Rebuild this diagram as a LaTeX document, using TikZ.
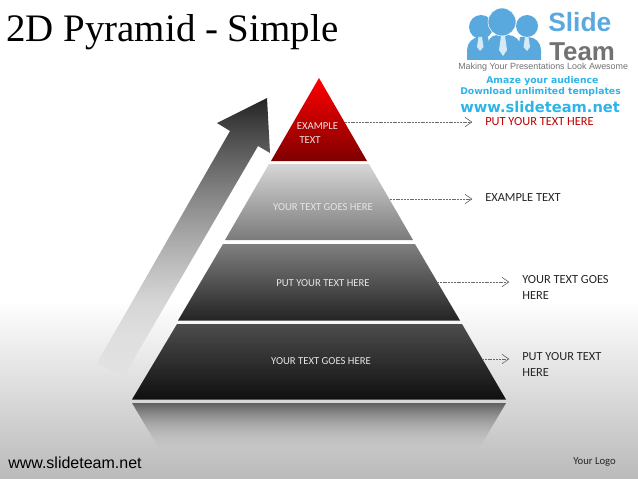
\documentclass[tikz,border=0pt]{standalone}
\usepackage{xcolor}
\usepackage{fontspec}
\setmainfont{Carlito}
\newfontfamily\titlefont{Liberation Serif}
\newfontfamily\webfont{Liberation Sans}
\newfontfamily\widefont{DejaVu Sans}
\usetikzlibrary{arrows.meta,fadings}

\definecolor{logoblue}{HTML}{5AA9DE}
\definecolor{logocyan}{HTML}{2FB4EA}
\definecolor{logogrey}{HTML}{727272}
\definecolor{tiertext}{HTML}{E6E6E6}

\begin{document}
\begin{tikzpicture}[x=0.75pt,y=-0.75pt,>={Straight Barb[length=5pt,width=7pt]},
    tierlabel/.style={text=tiertext,font=\fontsize{8}{10.5}\selectfont,inner sep=0pt},
    sidelabel/.style={anchor=west,align=left,inner sep=0pt,text=black!85,
                      font=\fontsize{9.3}{11.4}\selectfont},
    leader/.style={->,dashed,dash pattern=on 1.5pt off 0.6pt,black!58,line width=0.5pt,shorten >=9.5pt},
    person/.style={fill=logoblue},
    tie/.style={fill=white,fill opacity=0.75},
    logotext/.style={anchor=west,inner sep=0pt}]
    \useasboundingbox (0,0) rectangle (638,478);

    % background
    \fill[white] (0,0) rectangle (638,300);
    \shade[top color=white,bottom color=black!27] (0,300) rectangle (638,478);

    % rising arrow
    \shade[top color=black!86,bottom color=black!50,path fading=south]
        (267,98) -- (270,153) -- (258,146) -- (124,376) -- (97,363)
        -- (230,131) -- (217,123) -- cycle;

    % pyramid
    \shade[top color=red,bottom color=red!50!black] (319,78) -- (367,161) -- (271,161) -- cycle;
    \shade[top color=black!16,bottom color=black!52] (269,164) -- (369,164) -- (413,240) -- (225,240) -- cycle;
    \shade[top color=black!50,bottom color=black!86] (223,244) -- (415,244) -- (460,320.5) -- (178,320.5) -- cycle;
    \shade[top color=black!70,bottom color=black!94] (177,324) -- (462,324) -- (506,399.5) -- (132,399.5) -- cycle;

    % reflection
    \shade[top color=black!62,bottom color=black!27,path fading=south] (132,403) -- (506,403) -- (478,450) -- (160,450) -- cycle;

    \node[tierlabel,align=left] (tierA) at (317.5,133.5) {EXAMPLE\\ \hspace{2pt}TEXT};
    \node[tierlabel] (tierB) at (323,207.5) {YOUR TEXT GOES HERE};
    \node[tierlabel] (tierC) at (323,283) {PUT YOUR TEXT HERE};
    \node[tierlabel] (tierD) at (321,361) {YOUR TEXT GOES HERE};

    \node[sidelabel,text=red!75!black] (sideA) at (485,121.5) {PUT YOUR TEXT HERE};
    \node[sidelabel] (sideB) at (485,197.5) {EXAMPLE TEXT};
    \node[sidelabel] (sideC) at (522,287.5) {YOUR TEXT GOES\\HERE};
    \node[sidelabel] (sideD) at (522,364.5) {PUT YOUR TEXT\\HERE};

    \coordinate (startA) at (345,122);
    \coordinate (startB) at (390,199);
    \coordinate (startC) at (437,282);
    \coordinate (startD) at (482,359);

    \draw[leader] (startA) -- (startA -| sideA.west);
    \draw[leader] (startB) -- (startB -| sideB.west);
    \draw[leader] (startC) -- (startC -| sideC.west);
    \draw[leader] (startD) -- (startD -| sideD.west);

    % logo
    \fill[person] (481,27) circle (12);
    \fill[person] (527,26) circle (11);
    \fill[person] (467,60) -- (467,50) to[out=90,in=180] (480,37) -- (488,37) -- (492,60) -- cycle;
    \fill[person] (541,60) -- (541,50) to[out=90,in=0] (528,37) -- (520,37) -- (516,60) -- cycle;
    \fill[person] (487,60) -- (487,48) to[out=90,in=180] (497,35) -- (508,35) to[out=0,in=90] (521,48) -- (521,60) -- cycle;
    \fill[person,draw=white,line width=0.4pt] (502,22) circle (14);
    \fill[tie] (501,36) -- (505,36) -- (507,50) -- (503,56) -- (499,50) -- cycle;
    \fill[tie] (478.5,37) -- (482,37) -- (483.5,47) -- (480,51) -- (477,47) -- cycle;
    \fill[tie] (525,37) -- (528.5,37) -- (530,47) -- (527,51) -- (523.5,47) -- cycle;

    \node[logotext,text=logoblue,font=\webfont\bfseries\fontsize{19.8}{21}\selectfont] (logoSlide) at (548,22.5) {Slide};
    \node[logotext,text=logogrey,font=\webfont\bfseries\fontsize{19.4}{21}\selectfont] (logoTeam) at (549,51.5) {Team};
    \node[logotext,text=logogrey,font=\webfont\fontsize{6.7}{8}\selectfont] (logoTag) at (458,67.5) {Making Your Presentations Look Awesome};
    \node[logotext,text=logocyan,font=\widefont\bfseries\fontsize{6.95}{8}\selectfont] (logoAmaze) at (486,80.5) {Amaze your audience};
    \node[logotext,text=logocyan,font=\widefont\bfseries\fontsize{6.95}{8}\selectfont] (logoLoad) at (460,92) {Download unlimited templates};
    \node[logotext,text=logocyan,font=\widefont\bfseries\fontsize{11}{12}\selectfont] (logoWeb) at (460,107) {www.slideteam.net};

    % title and footer
    \node[logotext,font=\titlefont\fontsize{29.2}{30}\selectfont] (title) at (6,32.5) {2D Pyramid - Simple};
    \node[logotext,font=\webfont\fontsize{12}{14}\selectfont] (website) at (8,463) {www.slideteam.net};
    \node[logotext,text=black!85,font=\fontsize{8}{10}\selectfont] (yourlogo) at (573,461.5) {Your Logo};
\end{tikzpicture}
\end{document}
